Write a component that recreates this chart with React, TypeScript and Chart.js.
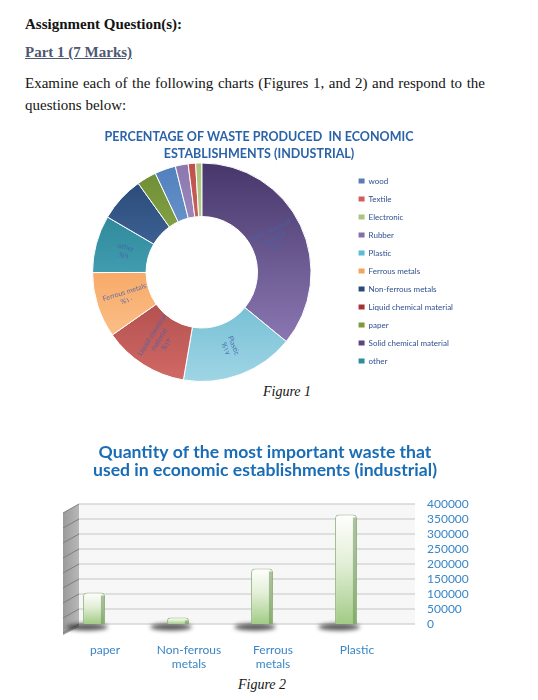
import React, { useEffect, useRef } from "react";
import { Chart, registerables } from "chart.js";

Chart.register(...registerables);

// ---------- Figure 1: doughnut (slices in clockwise drawing order from 12 o'clock) ----------
const sliceNames = [
  "Solid chemical material",
  "Plastic",
  "Liquid chemical material",
  "Ferrous metals",
  "other",
  "Non-ferrous metals",
  "paper",
  "wood",
  "Rubber",
  "Textile",
  "Electronic",
];
const slicePercents = [36, 16.8, 12.6, 9.7, 8.5, 6.7, 2.9, 3.1, 1.9, 1.1, 0.9];
const sliceInnerText = [
  ["Solid chemical", "material"],
  ["Plastic"],
  ["Liquid chemical", "material"],
  ["Ferrous metals"],
  ["other"],
  [],
  [],
  [],
  [],
  [],
  [],
];
const legendOrder = [
  "wood",
  "Textile",
  "Electronic",
  "Rubber",
  "Plastic",
  "Ferrous metals",
  "Non-ferrous metals",
  "Liquid chemical material",
  "paper",
  "Solid chemical material",
  "other",
];
const sliceDark = [
  "#46366a", "#2f9ab8", "#7c2828", "#f28732", "#21788a", "#274673",
  "#6d8b32", "#4f7fbd", "#8b77af", "#c0504d", "#a9c47a",
];
const sliceLight = [
  "#9a86c2", "#9fd5e5", "#d26966", "#fdcd9e", "#5fc0d3", "#5e8cc7",
  "#b4d175", "#a5c2e6", "#c4b7da", "#e28c8a", "#d7e8b6",
];
const legendSwatch = [
  "#5a4681", "#5cbcd0", "#a33533", "#f6a35e", "#2f8c9c", "#2e4a78",
  "#7d9a3d", "#5b7db5", "#8470a8", "#d0605d", "#a9c57e",
];
const pieTitle = ["PERCENTAGE OF WASTE PRODUCED  IN ECONOMIC", "ESTABLISHMENTS (INDUSTRIAL)"];

// ---------- Figure 2: bars ----------
const binCategories = [["paper"], ["Non-ferrous", "metals"], ["Ferrous", "metals"], ["Plastic"]];
const binQuantities = [105000, 22000, 185000, 365000];
const qtyTicks = [0, 50000, 100000, 150000, 200000, 250000, 300000, 350000, 400000];
const barTitle = ["Quantity of the most important waste that", "used in economic establishments (industrial)"];

const sliceLabelPlugin = {
  id: "sliceLabels",
  afterDatasetsDraw(chart: any) {
    const meta = chart.getDatasetMeta(0);
    const ctx = chart.ctx;
    meta.data.forEach((arc: any, i: number) => {
      const lines = sliceInnerText[i];
      if (!lines || lines.length === 0) return;
      const p = arc.getProps(["x", "y", "startAngle", "endAngle", "innerRadius", "outerRadius"], true);
      const a = (p.startAngle + p.endAngle) / 2;
      const r = p.innerRadius + (p.outerRadius - p.innerRadius) * 0.45;
      const px = p.x + Math.cos(a) * r;
      const py = p.y + Math.sin(a) * r;
      const rot = Math.cos(a) < 0 ? a + Math.PI : a;
      const pct = "%" + Math.round(slicePercents[i]).toLocaleString("ar-EG");
      const all = [...lines, pct];
      ctx.save();
      ctx.translate(px, py);
      ctx.rotate(rot);
      ctx.font = "7px Lato, 'DejaVu Sans'";
      ctx.fillStyle = "rgba(72, 98, 170, 0.85)";
      ctx.textAlign = "center";
      ctx.textBaseline = "middle";
      all.forEach((t, k) => ctx.fillText(t, 0, (k - (all.length - 1) / 2) * 8.5));
      ctx.restore();
    });
  },
};

const wallPlugin = {
  id: "wall3d",
  beforeDatasetsDraw(chart: any) {
    const { ctx, chartArea: a, scales } = chart;
    const y = scales.y;
    const dx = 27;
    const fx = 11;
    ctx.save();
    // back wall
    ctx.fillStyle = "#f7f7f7";
    ctx.fillRect(a.left + dx, a.top, a.right - a.left, a.bottom - a.top);
    // side wall
    const sg = ctx.createLinearGradient(a.left + fx, 0, a.left + dx, 0);
    sg.addColorStop(0, "#9a9a9a");
    sg.addColorStop(1, "#b8b8b8");
    ctx.fillStyle = sg;
    ctx.beginPath();
    ctx.moveTo(a.left + fx, a.top + 9);
    ctx.lineTo(a.left + dx, a.top);
    ctx.lineTo(a.left + dx, a.bottom + 3);
    ctx.lineTo(a.left + fx, a.bottom + 11);
    ctx.closePath();
    ctx.fill();
    y.ticks.forEach((t: any) => {
      const py = y.getPixelForValue(t.value);
      ctx.strokeStyle = "#d6d6d6";
      ctx.lineWidth = 1.5;
      ctx.beginPath();
      ctx.moveTo(a.left + dx, py);
      ctx.lineTo(a.right + dx, py);
      ctx.stroke();
      ctx.strokeStyle = "#7d7d7d";
      ctx.lineWidth = 1;
      ctx.beginPath();
      ctx.moveTo(a.left + fx, py + 9);
      ctx.lineTo(a.left + dx, py);
      ctx.stroke();
    });
    // bar shadows on the floor
    const meta = chart.getDatasetMeta(0);
    ctx.filter = "blur(2px)";
    ctx.fillStyle = "rgba(45,45,45,0.8)";
    meta.data.forEach((bar: any) => {
      const p = bar.getProps(["x", "base", "width"], true);
      ctx.beginPath();
      ctx.ellipse(p.x - 7, p.base + 3, p.width * 0.95, 3.5, 0, 0, Math.PI * 2);
      ctx.fill();
    });
    ctx.restore();
  },
  afterDatasetsDraw(chart: any) {
    const { ctx } = chart;
    const meta = chart.getDatasetMeta(0);
    ctx.save();
    meta.data.forEach((bar: any) => {
      const p = bar.getProps(["x", "y", "base", "width"], true);
      const right = p.x + p.width / 2;
      ctx.fillStyle = "rgba(105,145,85,0.55)";
      ctx.fillRect(right - 4, p.y + 3, 3.5, p.base - p.y - 3);
    });
    ctx.restore();
  },
};

export default function App() {
  const pieRef = useRef<HTMLCanvasElement>(null);
  const barRef = useRef<HTMLCanvasElement>(null);

  useEffect(() => {
    const pie = new Chart(pieRef.current as HTMLCanvasElement, {
      type: "doughnut",
      data: {
        labels: sliceNames,
        datasets: [
          {
            data: slicePercents,
            backgroundColor: (c: any) => {
              const area = c.chart.chartArea;
              const i = c.dataIndex;
              if (!area) return sliceDark[i];
              const g = c.chart.ctx.createLinearGradient(0, area.top, 0, area.bottom);
              g.addColorStop(0, sliceDark[i]);
              g.addColorStop(1, sliceLight[i]);
              return g;
            },
            borderColor: "#ffffff",
            borderWidth: 1,
          },
        ],
      },
      options: {
        responsive: false,
        animation: false,
        cutout: "51%",
        plugins: {
          title: {
            display: true,
            text: pieTitle,
            color: "#2b63a8",
            font: { family: "Lato", size: 12.5, weight: "bold", lineHeight: 1.36 },
            padding: { top: 6.5, bottom: 0 },
          },
          legend: {
            position: "right",
            align: "center",
            maxWidth: 116,
            title: {
              display: true,
              text: " ",
              font: { family: "Lato", size: 10, lineHeight: 1 },
              padding: { top: 14, bottom: 14 },
            },
            labels: {
              boxWidth: 6,
              boxHeight: 5,
              padding: 10,
              color: "#2e4f8e",
              font: { family: "Lato", size: 8 },
              generateLabels: () =>
                legendOrder.map((name) => {
                  const i = sliceNames.indexOf(name);
                  return {
                    text: name,
                    fillStyle: legendSwatch[i],
                    strokeStyle: legendSwatch[i],
                    lineWidth: 0,
                    hidden: false,
                    index: i,
                    fontColor: "#2e4f8e",
                  };
                }),
            },
          },
          tooltip: { enabled: false },
        },
      } as any,
      plugins: [sliceLabelPlugin],
    });

    const bar = new Chart(barRef.current as HTMLCanvasElement, {
      type: "bar",
      data: {
        labels: binCategories,
        datasets: [
          {
            data: binQuantities,
            backgroundColor: (c: any) => {
              const chart = c.chart;
              const y = chart.scales && chart.scales.y;
              if (!chart.chartArea || !y || c.raw == null) return "#d4e8c4";
              const top = y.getPixelForValue(c.raw);
              const base = y.getPixelForValue(0);
              if (!isFinite(top) || !isFinite(base) || top === base) return "#d4e8c4";
              const g = chart.ctx.createLinearGradient(0, top, 0, base);
              g.addColorStop(0, "#ffffff");
              g.addColorStop(0.45, "#e2efd6");
              g.addColorStop(1, "#a2cb86");
              return g;
            },
            borderColor: "#95b67d",
            borderWidth: 1,
            borderRadius: { topLeft: 4, topRight: 4, bottomLeft: 0, bottomRight: 0 },
            borderSkipped: "bottom",
            barPercentage: 0.26,
            categoryPercentage: 1,
          },
        ],
      },
      options: {
        responsive: false,
        animation: false,
        layout: { padding: { left: 52, right: 50, top: 0, bottom: 0 } },
        scales: {
          x: {
            offset: true,
            grid: { display: false, drawTicks: false },
            border: { display: false },
            ticks: {
              color: "#3a86c6",
              font: { family: "Lato", size: 12, lineHeight: 1.2 },
              padding: 19,
              labelOffset: 11,
              maxRotation: 0,
              autoSkip: false,
            },
            afterFit: (s: any) => {
              s.height = 50;
            },
          },
          y: {
            position: "right",
            min: 0,
            max: 400000,
            grid: { display: false, drawTicks: false },
            border: { display: false },
            afterBuildTicks: (s: any) => {
              s.ticks = qtyTicks.map((v) => ({ value: v }));
            },
            ticks: {
              color: "#3a86c6",
              font: { family: "Lato", size: 12 },
              padding: 39,
              autoSkip: false,
              callback: (v: any) => String(v),
            },
            afterFit: (s: any) => {
              s.width = 90;
            },
          },
        },
        plugins: {
          legend: { display: false },
          tooltip: { enabled: false },
          title: {
            display: true,
            text: barTitle,
            color: "#1a6db5",
            font: { family: "Lato", size: 17.6, weight: "bold", lineHeight: 1.04 },
            padding: { top: 6.8, bottom: 24.6 },
          },
        },
      } as any,
      plugins: [wallPlugin],
    });

    return () => {
      pie.destroy();
      bar.destroy();
    };
  }, []);

  const line: React.CSSProperties = {
    position: "absolute",
    left: 25,
    fontSize: 15,
    lineHeight: "18px",
    whiteSpace: "nowrap",
  };

  return (
    <div
      style={{
        position: "absolute",
        left: 0,
        top: 0,
        width: 538,
        height: 700,
        overflow: "hidden",
        background: "#ffffff",
        color: "#141414",
        fontFamily: '"Liberation Serif", "Times New Roman", serif',
      }}
    >
      <div style={{ ...line, top: 15, fontWeight: "bold" }}>Assignment Question(s):</div>
      <div style={{ ...line, top: 43, fontWeight: "bold", color: "#4d5872", textDecoration: "underline" }}>
        Part 1 (7 Marks)
      </div>
      <div
        style={{
          ...line,
          top: 74,
          width: 460,
          whiteSpace: "normal",
          textAlign: "justify",
          textAlignLast: "justify",
        }}
      >
        Examine each of the following charts (Figures 1, and 2) and respond to the
      </div>
      <div style={{ ...line, top: 96 }}>questions below:</div>

      <canvas ref={pieRef} width={408} height={260} style={{ position: "absolute", left: 55, top: 122 }} />
      <div
        style={{
          position: "absolute",
          left: 237,
          width: 100,
          top: 384,
          fontSize: 14,
          lineHeight: "16px",
          fontStyle: "italic",
          textAlign: "center",
        }}
      >
        Figure 1
      </div>

      <canvas ref={barRef} width={528} height={238} style={{ position: "absolute", left: 0, top: 436 }} />
      <div
        style={{
          position: "absolute",
          left: 212,
          width: 100,
          top: 677,
          fontSize: 14,
          lineHeight: "16px",
          fontStyle: "italic",
          textAlign: "center",
        }}
      >
        Figure 2
      </div>
    </div>
  );
}
